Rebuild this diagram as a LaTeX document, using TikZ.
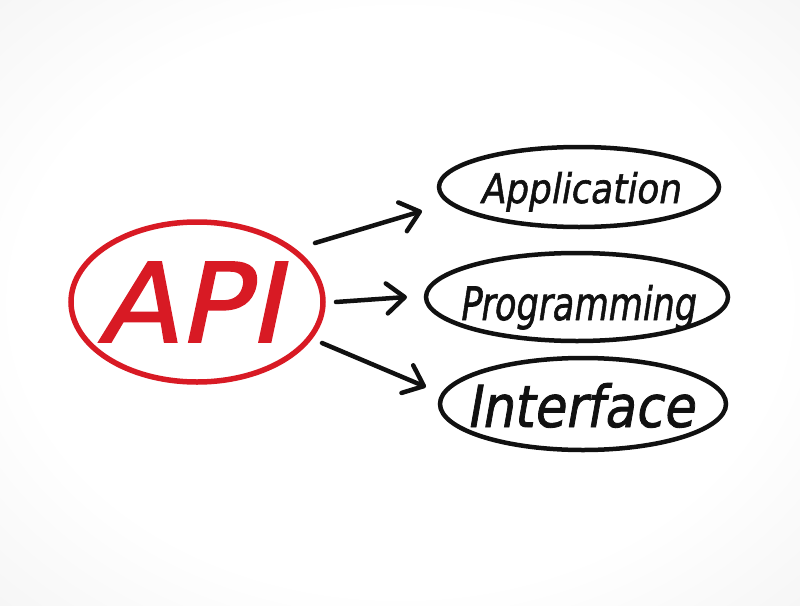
\documentclass[tikz,border=0pt]{standalone}
\usepackage{graphicx}
\usepackage{fontspec}
\setmainfont{DejaVu Sans}
\newfontfamily\handfont{DejaVu Sans}[FakeSlant=0.2, FakeBold=1.5]
\usetikzlibrary{shapes.geometric,arrows.meta}
\definecolor{apired}{HTML}{D81A24}
\definecolor{ink}{HTML}{111111}
\pgfdeclareradialshading{bgshade}{\pgfpoint{0bp}{0bp}}{color(0bp)=(white); color(24bp)=(white); color(50bp)=(black!8)}
\begin{document}
\begin{tikzpicture}[x=1pt,y=-1pt,
  redell/.style={ellipse, draw=apired, line width=5.5pt, inner sep=0pt},
  blkell/.style={ellipse, draw=ink, line width=4.5pt, inner sep=0pt},
  arr/.style={draw=ink, line width=4.5pt, line cap=round, -{Straight Barb[length=18pt,width=30pt,round]}},
  lbl/.style={inner sep=0pt, anchor=base, font=\handfont}]
\shade[shading=bgshade] (0,0) rectangle (800,605);
\useasboundingbox (0,0) rectangle (800,605);
% ellipses
\node[redell, minimum width=252pt, minimum height=160pt] (api) at (197,302) {};
\node[blkell, minimum width=280pt, minimum height=80pt] (app) at (579,187) {};
\node[blkell, minimum width=302pt, minimum height=88pt] (prog) at (577,297) {};
\node[blkell, minimum width=286pt, minimum height=92pt] (intf) at (583,404) {};
% texts
\node[lbl, text=apired] (apitxt) at (190,342) {\resizebox{184pt}{80pt}{API}};
\node[lbl, text=ink] (apptxt) at (580,203) {\resizebox{200pt}{31pt}{Application}};
\node[lbl, text=ink] (progtxt) at (577,320) {\resizebox{236pt}{35pt}{Programming}};
\node[lbl, text=ink] (intftxt) at (580,427) {\resizebox{228pt}{44pt}{Interface}};
% arrow end points
\coordinate (t1) at (315,243); \coordinate (h1) at (422,211);
\coordinate (t2) at (336,302); \coordinate (h2) at (407,297);
\coordinate (t3) at (322,343); \coordinate (h3) at (426,387);
\draw[arr] (t1) -- (h1);
\draw[arr] (t2) -- (h2);
\draw[arr] (t3) -- (h3);
\end{tikzpicture}
\end{document}
